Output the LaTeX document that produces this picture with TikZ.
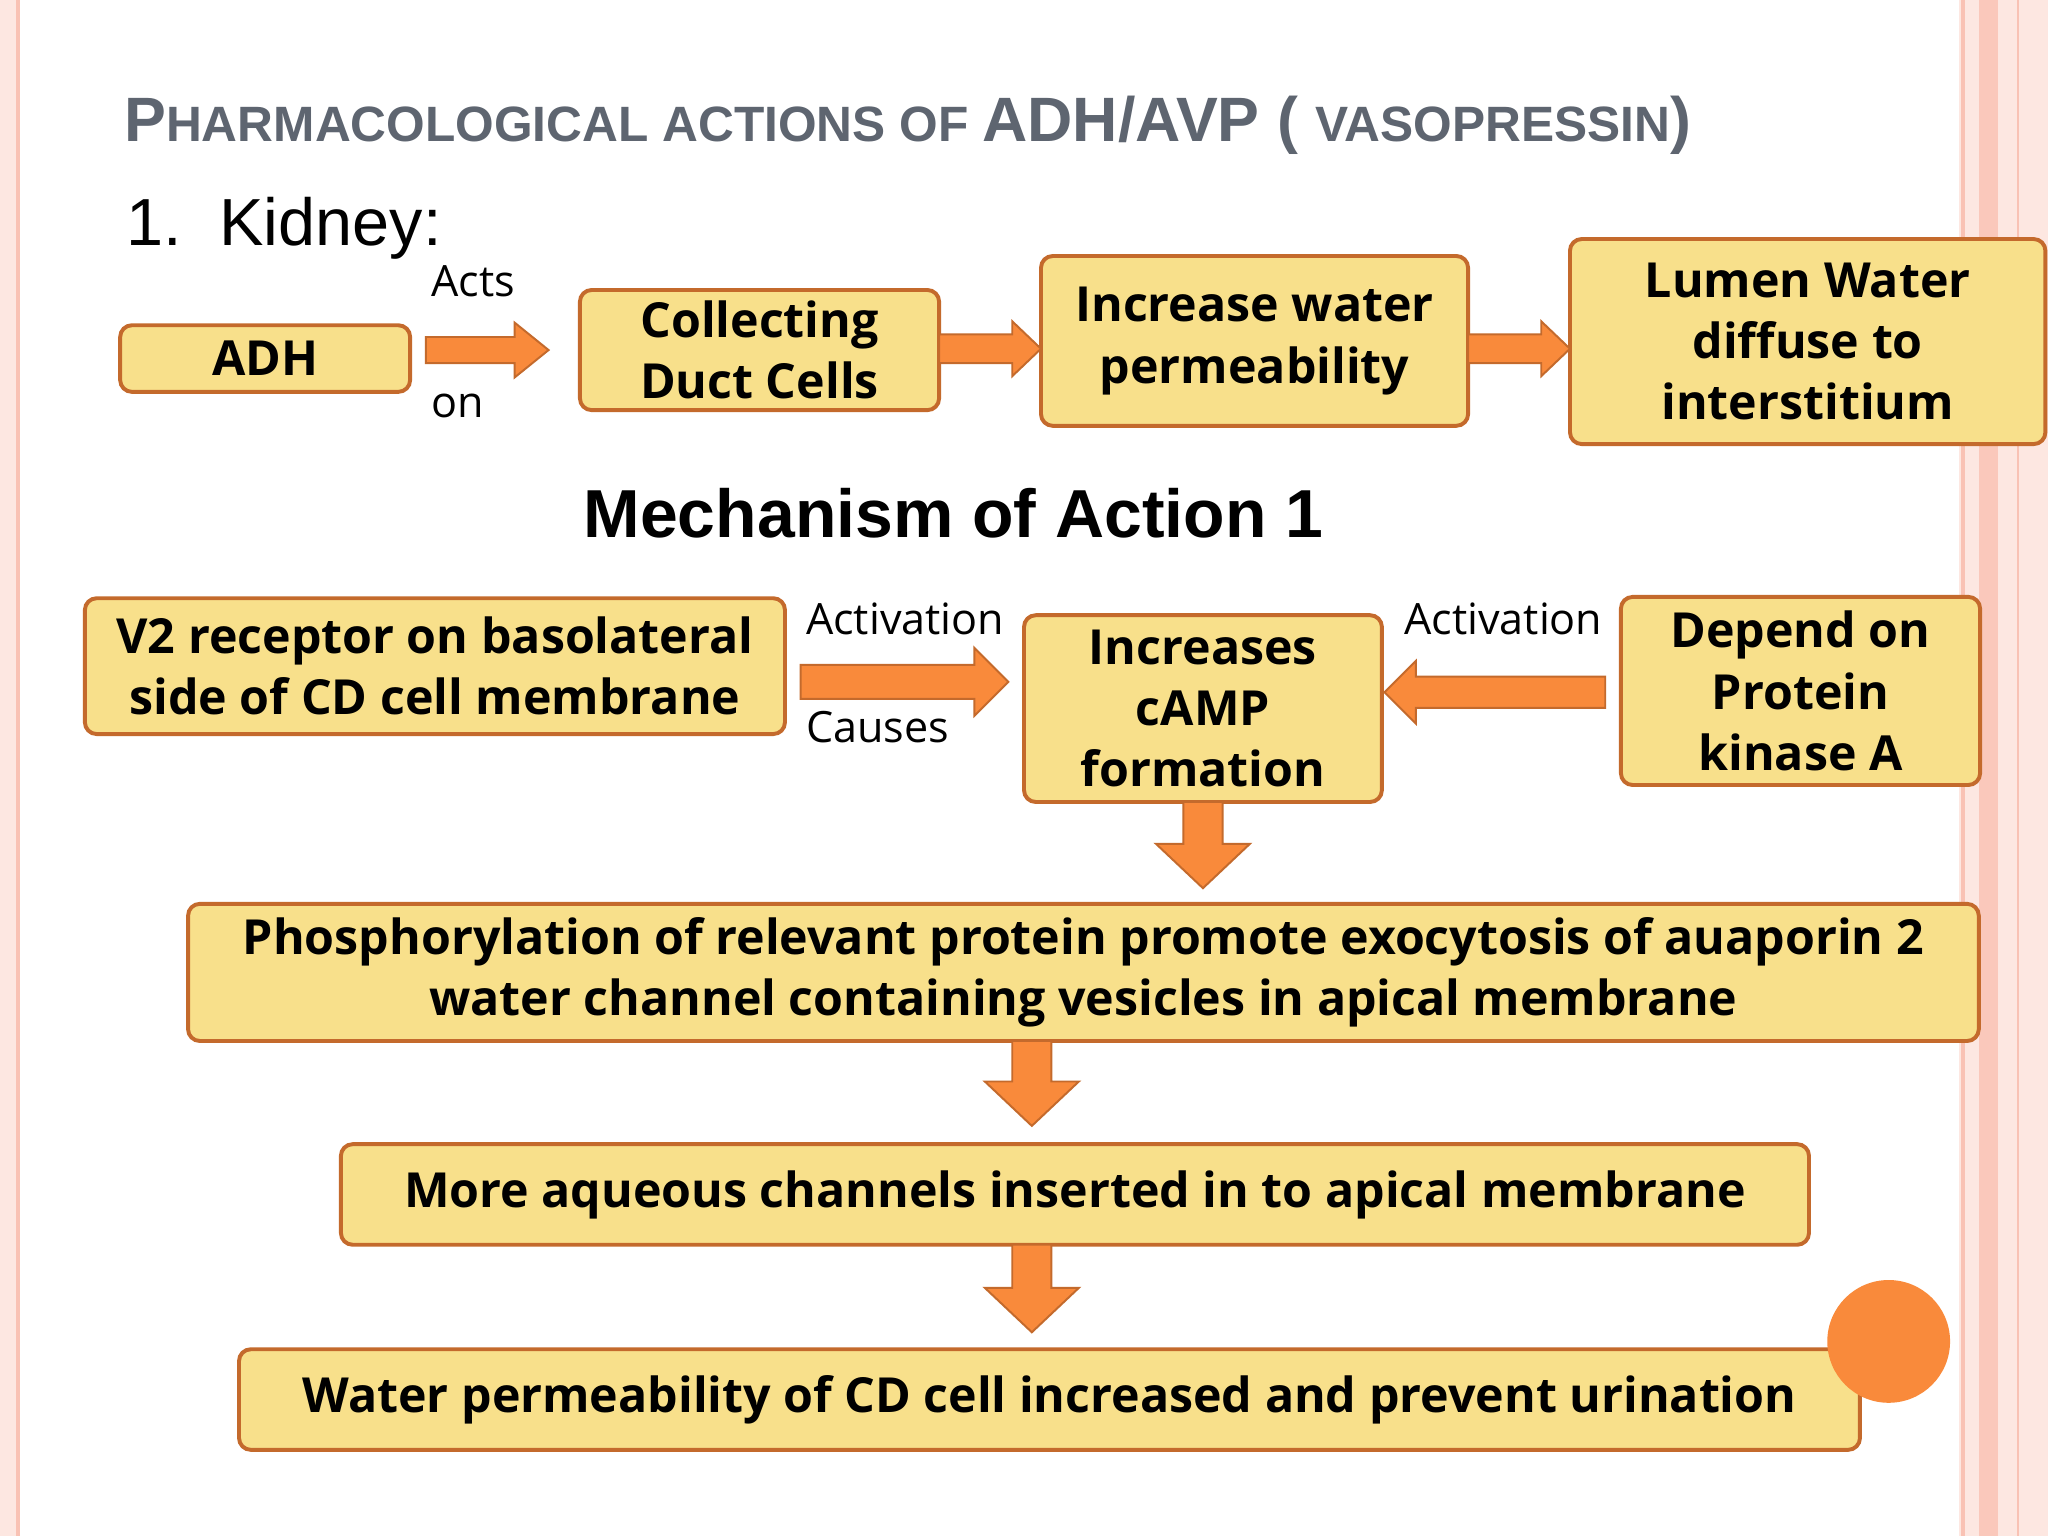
\documentclass[tikz,border=0pt]{standalone}
\usepackage{fontspec}
\setmainfont{Open Sans}
\newfontfamily\ttl{Liberation Sans}
\definecolor{bx}{HTML}{F8E08B}
\definecolor{bd}{HTML}{C46A2C}
\definecolor{ar}{HTML}{F98A3B}
\definecolor{tg}{HTML}{5E6570}
\definecolor{pk}{HTML}{F9C2B4}
% block arrow: x1,x2,y,shaft half,head half,signed head length
\newcommand\harrowx[6]{\draw[arr] ({#1},{#3-#4}) -- ({#2-#6},{#3-#4}) -- ({#2-#6},{#3-#5}) -- ({#2},{#3}) -- ({#2-#6},{#3+#5}) -- ({#2-#6},{#3+#4}) -- ({#1},{#3+#4}) -- cycle;}
\newcommand\varrowx[6]{\draw[arr] ({#3-#4},{#1}) -- ({#3-#4},{#2-#6}) -- ({#3-#5},{#2-#6}) -- ({#3},{#2}) -- ({#3+#5},{#2-#6}) -- ({#3+#4},{#2-#6}) -- ({#3+#4},{#1}) -- cycle;}
\begin{document}
\begin{tikzpicture}[x=1pt,y=-1pt,
 box/.style={draw=bd,fill=bx,line width=3pt,rounded corners=9pt,align=center,inner sep=0pt,font=\fontsize{37}{47}\selectfont\bfseries},
 lab/.style={anchor=west,inner sep=0pt,font=\fontsize{33}{38}\selectfont},
 arr/.style={draw=bd,fill=ar,line width=1.5pt,line join=miter},
]
\useasboundingbox (0,0) rectangle (1568,1176);
\fill[white] (0,0) rectangle (1568,1176);
\fill[pk!40] (0,0) rectangle (12,1176);
\draw[pk,line width=3pt] (14,0) -- (14,1176);
\fill[pk!40] (1500,0) rectangle (1568,1176);
\draw[pk,line width=3pt] (1503,0) -- (1503,1176);
\fill[pk!90] (1515,0) rectangle (1530,1176);
\draw[pk,line width=2pt] (1545,0) -- (1545,1176);
\node[anchor=base west,inner sep=0pt,text=tg,font=\ttl\bfseries] (t) at (95,108)
 {\fontsize{48}{54}\selectfont P\fontsize{38}{44}\selectfont HARMACOLOGICAL ACTIONS OF \fontsize{48}{54}\selectfont ADH/AVP ( \fontsize{38}{44}\selectfont VASOPRESSIN\fontsize{48}{54}\selectfont)};
\node[anchor=base west,inner sep=0pt,font=\ttl\fontsize{51}{56}\selectfont] (k) at (97,188) {1.\ \ Kidney:};
\node[inner sep=0pt,font=\ttl\bfseries\fontsize{52}{58}\selectfont] (m) at (730,393) {Mechanism of Action 1};

\node[box,minimum width=222pt,minimum height=51pt] (adh) at (203,274.5) {ADH};
\node[box,minimum width=275pt,minimum height=92pt] (cd) at (581.5,268) {Collecting\\Duct Cells};
\node[box,minimum width=327pt,minimum height=130pt] (iw) at (960.5,261) {Increase water\\permeability};
\node[box,minimum width=364pt,minimum height=157pt] (lw) at (1384,261.5) {Lumen Water\\diffuse to\\interstitium};
\node[box,minimum width=536pt,minimum height=104pt] (v2) at (333,510) {V2 receptor on basolateral\\side of CD cell membrane};
\node[box,minimum width=274pt,minimum height=143pt] (ca) at (921,542.5) {Increases\\cAMP\\formation};
\node[box,minimum width=275pt,minimum height=144pt] (pk) at (1378.5,529) {Depend on\\Protein\\kinase A};
\node[box,minimum width=1371pt,minimum height=105pt] (ph) at (829.5,744.5) {Phosphorylation of relevant protein promote exocytosis of auaporin 2\\water channel containing vesicles in apical membrane};
\node[box,minimum width=1124pt,minimum height=77pt] (ma) at (823,914.5) {More aqueous channels inserted in to apical membrane};
\node[box,minimum width=1241pt,minimum height=77pt] (wp) at (803.5,1071.5) {Water permeability of CD cell increased and prevent urination};

\node[lab] (acts) at (330,215) {Acts};
\node[lab] (on) at (330,311) {on};
\node[lab] (a1) at (617,474) {Activation};
\node[lab] (cs) at (617,557) {Causes};
\node[lab] (a2) at (1075,474) {Activation};

\harrowx{326}{420}{268}{10}{21}{26}
\harrowx{719}{797}{267}{11}{21}{22}
\harrowx{1124}{1202}{267}{11}{21}{22}
\harrowx{613}{772}{522}{13}{26}{26}
\harrowx{1229}{1060}{530}{12}{24}{-24}
\varrowx{614}{680}{921}{15}{36}{34}
\varrowx{797}{862}{790}{15}{36}{34}
\varrowx{953}{1020}{790}{15}{36}{34}
\fill[ar] (1446,1027) circle (47);
\end{tikzpicture}
\end{document}
